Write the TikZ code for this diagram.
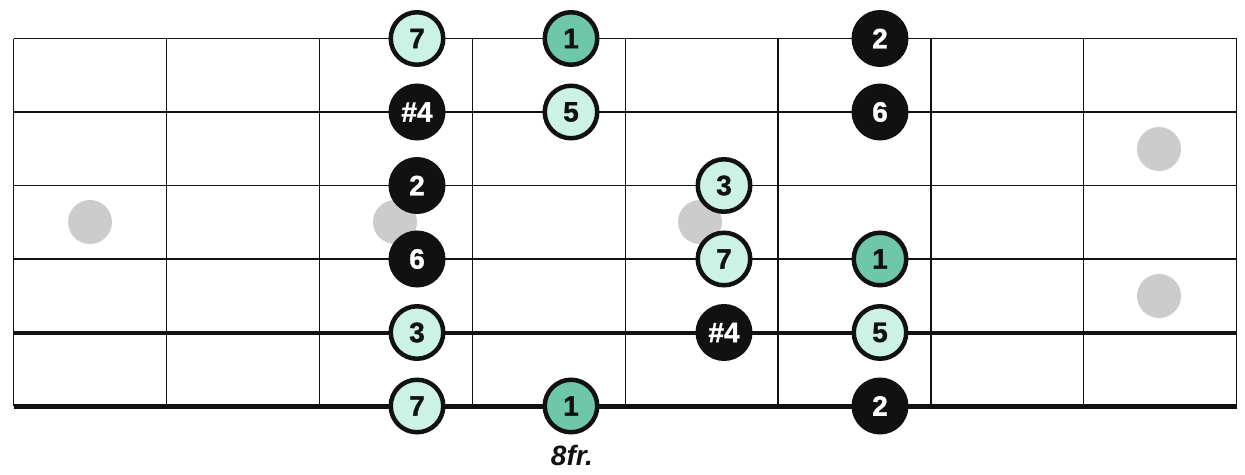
\documentclass[tikz,border=0pt]{standalone}
\usepackage{fontspec}
\setmainfont{Liberation Sans}[BoldFeatures={FakeBold=1.2}]
\usetikzlibrary{positioning,calc}
\definecolor{ink}{HTML}{111111}
\definecolor{mint}{HTML}{CBF2E4}
\definecolor{tonic}{HTML}{6FC7A9}
\definecolor{inlay}{HTML}{CCCCCC}

\tikzset{
	degree/.style={circle, draw=ink, line width=4.5pt, minimum size=52.5pt, inner sep=0pt,
		font=\fontsize{28}{28}\selectfont\bfseries, text=ink},
	light/.style={degree, fill=mint},
	root/.style={degree, fill=tonic},
	dark/.style={degree, fill=ink, text=white},
	inlaydot/.style={circle, fill=inlay, minimum size=44pt, inner sep=0pt},
}

\begin{document}
\begin{tikzpicture}[x=1pt, y=-1pt]
	\useasboundingbox[fill=white] (0,0) rectangle (1245,474);
	
	% Inlays
	\node[inlaydot] (dot3) at (90,222) {};
	\node[inlaydot] (dot5) at (395,222) {};
	\node[inlaydot] (dot7) at (700,222) {};
	\node[inlaydot] (dot12a) at (1159,149) {};
	\node[inlaydot] (dot12b) at (1159,296) {};
	
	% Strings
	\draw[ink, line width=1pt] (13.5,38.5) -- (1236.7,38.5);
	\draw[ink, line width=1.4pt] (13.5,112) -- (1236.7,112);
	\draw[ink, line width=1.5pt] (13.5,185.5) -- (1236.7,185.5);
	\draw[ink, line width=2pt] (13.5,259) -- (1236.7,259);
	\draw[ink, line width=4pt] (13.5,332.5) -- (1236.7,332.5);
	\draw[ink, line width=5pt] (13.5,406) -- (1236.7,406);
	
	% Frets
	\foreach \x in {13.5,166.4,319.3,472.2,625.1,778,930.9,1083.8,1236.7}
		\draw[ink, line width=1.2pt] (\x,38.5) -- (\x,406);
	
	% String 1
	\node[light] (str1a) at (417,38.5) {7};
	\node[root] (str1b) at ($(str1a) + (154,0)$) {1};
	\node[dark] (str1d) at ($(str1a) + (463,0)$) {2};
	
	% String 2
	\node[dark] (str2a) at (417,112) {\#4};
	\node[light] (str2b) at ($(str2a) + (154,0)$) {5};
	\node[dark] (str2d) at ($(str2a) + (463,0)$) {6};
	
	% String 3
	\node[dark] (str3a) at (417,185.5) {2};
	\node[light] (str3c) at ($(str3a) + (307,0)$) {3};
	
	% String 4
	\node[dark] (str4a) at (417,259) {6};
	\node[light] (str4c) at ($(str4a) + (307,0)$) {7};
	\node[root] (str4d) at ($(str4a) + (463,0)$) {1};
	
	% String 5
	\node[light] (str5a) at (417,332.5) {3};
	\node[dark] (str5c) at ($(str5a) + (307,0)$) {\#4};
	\node[light] (str5d) at ($(str5a) + (463,0)$) {5};
	
	% String 6
	\node[light] (str6a) at (417,406) {7};
	\node[root] (str6b) at ($(str6a) + (154,0)$) {1};
	\node[dark] (str6d) at ($(str6a) + (463,0)$) {2};
	
	% Position
	\node[font=\fontsize{28}{28}\selectfont\bfseries\itshape, text=ink] (fretno) at ($(str6b) + (1,49)$) {8fr.};
\end{tikzpicture}
\end{document}
